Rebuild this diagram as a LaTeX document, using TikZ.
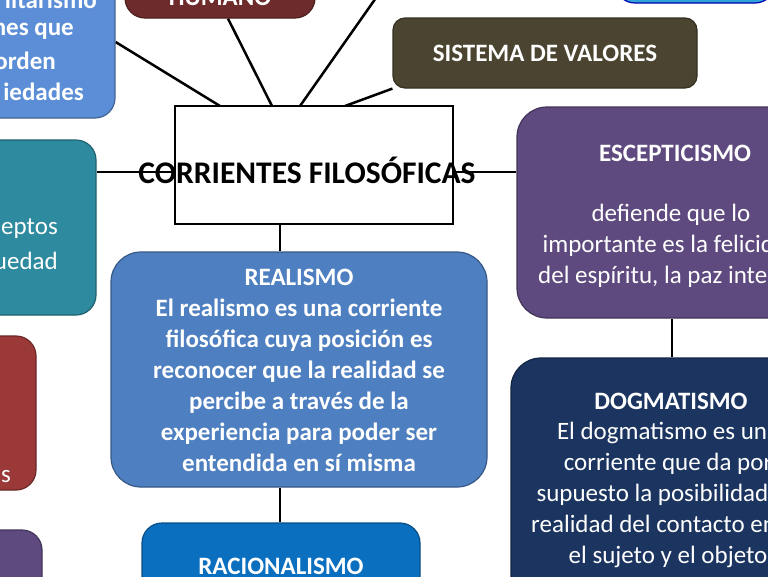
\documentclass[tikz,border=0pt]{standalone}
\usepackage{fontspec}
\setmainfont{Carlito}
\usetikzlibrary{backgrounds}
\begin{document}
\begin{tikzpicture}[x=1pt,y=-1pt,
 box/.style={draw=#1!70!black,fill=#1,line width=1.2pt,rounded corners=20pt,text=white,font=\fontsize{25}{31}\selectfont\bfseries,align=center,inner sep=0pt},
 txt/.style={text=white,font=\fontsize{25}{31}\selectfont\bfseries,align=center,inner sep=0pt},
 txtn/.style={text=white,font=\fontsize{25}{31}\selectfont,align=center,inner sep=0pt},
 conn/.style={line width=2.5pt,black}]
\useasboundingbox (0,0) rectangle (768,576);
\clip (0,0) rectangle (768,576);
\definecolor{cblue}{HTML}{5B8ED6}
\definecolor{cred}{HTML}{6E2B2B}
\definecolor{colive}{HTML}{4A4430}
\definecolor{cteal}{HTML}{2E8A9E}
\definecolor{cred2}{HTML}{9B3838}
\definecolor{cpurp}{HTML}{5E4A7E}
\definecolor{creal}{HTML}{4E7FC0}
\definecolor{cracio}{HTML}{0B6FC0}
\definecolor{cnavy}{HTML}{1B3560}
\definecolor{ccyan}{HTML}{2FA3D8}
% boxes
\node[box=cblue,minimum width=200,minimum height=178] (util) at (15,29) {};
\node[txt,anchor=east] at (97,0) {litarismo};
\node[txt,anchor=east] at (74,31) {nes que};
\node[txt,anchor=east] at (56,61) {orden};
\node[txt,anchor=east] at (84,92) {iedades};
\node[box=cred,minimum width=190,minimum height=60] (hum) at (220,-12) {};
\node[txt] at (220,-3) {HUMANO};
\node[box=ccyan,draw=blue!70!black,minimum width=160,minimum height=40] (topr) at (695,-17) {};
\node[box=colive,minimum width=304,minimum height=70,rounded corners=12pt] (sis) at (545,53) {SISTEMA DE VALORES};
\node[box=cteal,minimum width=200,minimum height=175] (teal) at (-4,227.5) {};
\node[txtn,anchor=east] at (58,229) {eptos};
\node[txtn,anchor=east] at (58,261) {uedad};
\node[box=cred2,minimum width=120,minimum height=154] (red2) at (-24,413) {};
\node[txtn] at (6,477) {s};
\node[box=cpurp,minimum width=120,minimum height=90] (purp) at (-18,575) {};
\node[draw=black,fill=white,line width=2.5pt,minimum width=278,minimum height=118,inner sep=0pt] (cent) at (314,165) {};
\node[font=\fontsize{31.5}{34}\selectfont\bfseries] at (307,170) {CORRIENTES FILOSÓFICAS};
\node[box=creal,minimum width=376,minimum height=235,rounded corners=30pt] (real) at (299,369.5) {};
\node[txt] at (299,370) {REALISMO\\El realismo es una corriente\\filosófica cuya posición es\\reconocer que la realidad se\\percibe a través de la\\experiencia para poder ser\\entendida en sí misma};
\node[box=cracio,minimum width=278,minimum height=100] (racio) at (281,573) {};
\node[txt] at (281,566) {RACIONALISMO};
\node[box=cpurp,minimum width=300,minimum height=211,rounded corners=30pt] (escep) at (667,212.5) {};
\node[txt] at (675,153) {ESCEPTICISMO};
\node[txtn,anchor=north west] at (538,200) {\begin{tabular}{@{}c@{}}defiende que lo\\importante es la felicidad\\del espíritu, la paz interior\end{tabular}};
\node[box=cnavy,minimum width=300,minimum height=260,rounded corners=30pt] (dog) at (661,488) {};
\node[txt] at (671,401) {DOGMATISMO};
\node[txtn,anchor=north west] at (531,418) {\begin{tabular}{@{}c@{}}El dogmatismo es una\\corriente que da por\\supuesto la posibilidad de\\realidad del contacto entre\\el sujeto y el objeto\end{tabular}};
\begin{scope}[on background layer]
\draw[conn] (cent.west |- 0,172) -- (teal.east |- 0,172);
\draw[conn] (220,106) -- (util.east |- 0,42);
\draw[conn] (272,106) -- (hum.south -| 228,0);
\draw[conn] (300,106) -- (378,-5);
\draw[conn] (345,106) -- (sis.south west);
\draw[conn] (cent.east |- 0,172) -- (escep.west |- 0,172);
\draw[conn] (cent.south -| 280,0) -- (real.north -| 280,0);
\draw[conn] (real.south -| 280,0) -- (racio.north -| 280,0);
\draw[conn] (escep.south -| 672,0) -- (dog.north -| 672,0);
\end{scope}
\end{tikzpicture}
\end{document}
